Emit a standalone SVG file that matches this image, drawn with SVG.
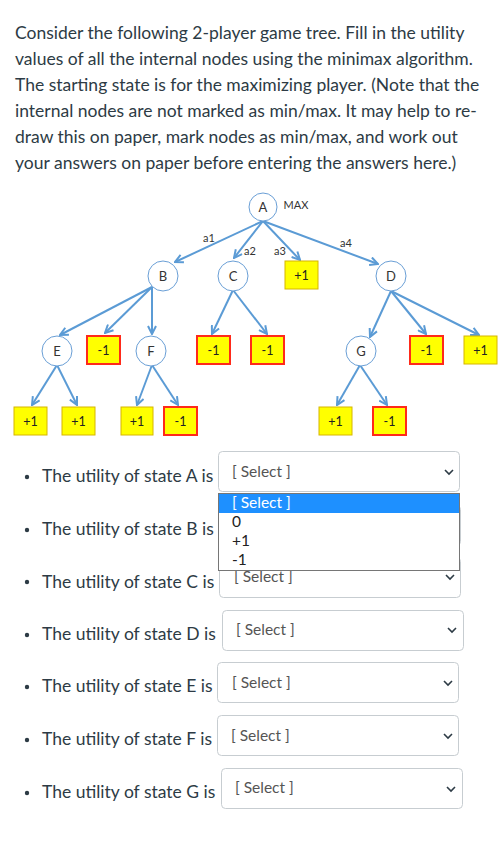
<svg xmlns="http://www.w3.org/2000/svg" width="499" height="849" viewBox="0 0 499 849">
<style>
.p{font-family:Lato,"Open Sans","Liberation Sans",sans-serif;font-size:17.5px;fill:#2d3b45}
.n circle{fill:#fff;stroke:#6a9fd6;stroke-width:1}
.n text,.lf text,.lbl{font-family:Lato,"Liberation Sans",sans-serif;font-size:13px;fill:#333;text-anchor:middle}
.lbl{font-size:11px}
.lf text{font-size:12.5px;fill:#222}
.pos rect{fill:#ffff00;stroke:#d6b600;stroke-width:1}
.neg rect{fill:#ffff00;stroke:#ff2a1a;stroke-width:2}
.e line{stroke:#5b9bd5;stroke-width:2;marker-end:url(#ah)}
.sel{fill:#fff;stroke:#c7cdd1;stroke-width:1}
.st{font-family:Lato,"Open Sans","Liberation Sans",sans-serif;font-size:15.5px;fill:#555}
.chev{fill:none;stroke:#2d3b45;stroke-width:1.6}
</style>
<defs>
<marker id="ah" viewBox="0 0 10 10" refX="9" refY="5" markerWidth="10" markerHeight="10" markerUnits="userSpaceOnUse" orient="auto">
<path d="M1,1 L9,5 L1,9" fill="none" stroke="#5b9bd5" stroke-width="2"/>
</marker>
</defs>
<rect width="499" height="849" fill="#fff"/>
<g id="question">
<text class="p" x="15" y="39">Consider the following 2-player game tree. Fill in the utility</text>
<text class="p" x="15" y="65">values of all the internal nodes using the minimax algorithm.</text>
<text class="p" x="15" y="91">The starting state is for the maximizing player. (Note that the</text>
<text class="p" x="15" y="117">internal nodes are not marked as min/max. It may help to re-</text>
<text class="p" x="15" y="143">draw this on paper, mark nodes as min/max, and work out</text>
<text class="p" x="15" y="169">your answers on paper before entering the answers here.)</text>
</g>
<g id="connectors" class="e">
<line x1="263" y1="221" x2="175" y2="262"/>
<line x1="263" y1="221" x2="234" y2="258"/>
<line x1="263" y1="221" x2="300" y2="260"/>
<line x1="263" y1="221" x2="378" y2="264"/>
<line x1="152" y1="287" x2="60" y2="335"/>
<line x1="152" y1="287" x2="105" y2="333"/>
<line x1="152" y1="287" x2="152" y2="334"/>
<line x1="233" y1="290" x2="212" y2="334"/>
<line x1="233" y1="290" x2="267" y2="334"/>
<line x1="391" y1="291" x2="370" y2="337"/>
<line x1="391" y1="291" x2="426" y2="334"/>
<line x1="391" y1="291" x2="479" y2="335"/>
<line x1="57" y1="365" x2="32" y2="405"/>
<line x1="57" y1="365" x2="77" y2="405"/>
<line x1="152" y1="365" x2="137" y2="405"/>
<line x1="152" y1="365" x2="178" y2="405"/>
<line x1="360" y1="365" x2="337" y2="405"/>
<line x1="360" y1="365" x2="387" y2="405"/>
</g>
<g id="edge-labels">
<text class="lbl" x="209" y="242">a1</text>
<text class="lbl" x="250" y="255">a2</text>
<text class="lbl" x="280" y="255">a3</text>
<text class="lbl" x="346" y="247">a4</text>
<text class="lbl" x="296" y="209">MAX</text>
</g>
<g id="A" class="n"><circle cx="263" cy="207" r="14"/><text x="263" y="211.5">A</text></g>
<g id="B" class="n"><circle cx="163" cy="276" r="15"/><text x="163" y="280.5">B</text></g>
<g id="C" class="n"><circle cx="233" cy="276" r="15"/><text x="233" y="280.5">C</text></g>
<g id="D" class="n"><circle cx="391" cy="276" r="15"/><text x="391" y="280.5">D</text></g>
<g id="E" class="n"><circle cx="57" cy="351" r="15"/><text x="57" y="355.5">E</text></g>
<g id="F" class="n"><circle cx="151" cy="351" r="15"/><text x="151" y="355.5">F</text></g>
<g id="G" class="n"><circle cx="361" cy="351" r="15"/><text x="361" y="355.5">G</text></g>
<g id="leaf-a3" class="lf pos"><rect x="285" y="261" width="33" height="28"/><text x="301.5" y="279.5">+1</text></g>
<g id="leaf-b2" class="lf neg"><rect x="87" y="336" width="33" height="28"/><text x="103.5" y="354.5">-1</text></g>
<g id="leaf-c1" class="lf neg"><rect x="197" y="336" width="33" height="28"/><text x="213.5" y="354.5">-1</text></g>
<g id="leaf-c2" class="lf neg"><rect x="251" y="336" width="33" height="28"/><text x="267.5" y="354.5">-1</text></g>
<g id="leaf-d2" class="lf neg"><rect x="410" y="336" width="33" height="28"/><text x="426.5" y="354.5">-1</text></g>
<g id="leaf-d3" class="lf pos"><rect x="464" y="336" width="33" height="28"/><text x="480.5" y="354.5">+1</text></g>
<g id="leaf-e1" class="lf pos"><rect x="14" y="407" width="33" height="28"/><text x="30.5" y="425.5">+1</text></g>
<g id="leaf-e2" class="lf pos"><rect x="62" y="407" width="33" height="28"/><text x="78.5" y="425.5">+1</text></g>
<g id="leaf-f1" class="lf pos"><rect x="121" y="407" width="32" height="28"/><text x="137" y="425.5">+1</text></g>
<g id="leaf-f2" class="lf neg"><rect x="164" y="407" width="33" height="28"/><text x="180.5" y="425.5">-1</text></g>
<g id="leaf-g1" class="lf pos"><rect x="319" y="407" width="33" height="28"/><text x="335.5" y="425.5">+1</text></g>
<g id="leaf-g2" class="lf neg"><rect x="373" y="407" width="33" height="28"/><text x="389.5" y="425.5">-1</text></g>
<g id="answers">
<g fill="#2d3b45">
<circle cx="27" cy="477" r="2.2"/><circle cx="27" cy="530" r="2.2"/><circle cx="27" cy="582" r="2.2"/>
<circle cx="27" cy="635" r="2.2"/><circle cx="27" cy="687" r="2.2"/><circle cx="27" cy="740" r="2.2"/><circle cx="27" cy="793" r="2.2"/>
</g>
<text class="p" x="42" y="482">The utility of state A is</text>
<text class="p" x="42" y="535">The utility of state B is</text>
<text class="p" x="42" y="588">The utility of state C is</text>
<text class="p" x="42" y="640">The utility of state D is</text>
<text class="p" x="42" y="692">The utility of state E is</text>
<text class="p" x="42" y="745">The utility of state F is</text>
<text class="p" x="42" y="798">The utility of state G is</text>
<rect class="sel" x="218.5" y="451.5" width="241" height="40" rx="4"/>
<text class="st" x="232" y="477">[ Select ]</text>
<path class="chev" d="M445,470 L449,474 L453,470"/>
<rect class="sel" x="219.5" y="505.5" width="241" height="40" rx="4"/>
<rect class="sel" x="219.5" y="557.5" width="241" height="40" rx="4"/>
<text class="st" x="234" y="582">[ Select ]</text>
<path class="chev" d="M446,575 L450,579 L454,575"/>
<rect class="sel" x="222.5" y="610.5" width="241" height="40" rx="4"/>
<text class="st" x="236" y="635">[ Select ]</text>
<path class="chev" d="M448,628 L452,632 L456,628"/>
<rect class="sel" x="217.5" y="662.5" width="241" height="40" rx="4"/>
<text class="st" x="232" y="688">[ Select ]</text>
<path class="chev" d="M444,681 L448,685 L452,681"/>
<rect class="sel" x="217.5" y="715.5" width="241" height="40" rx="4"/>
<text class="st" x="231" y="741">[ Select ]</text>
<path class="chev" d="M444,734 L448,738 L452,734"/>
<rect class="sel" x="221.5" y="768.5" width="241" height="40" rx="4"/>
<text class="st" x="235" y="793">[ Select ]</text>
<path class="chev" d="M447,787 L451,791 L455,787"/>
<g id="dropdown">
<rect x="218.5" y="493.5" width="241" height="77" fill="#fff" stroke="#767676" stroke-width="1"/>
<rect x="219" y="494" width="240" height="19" fill="#1e90ff"/>
<text class="st" x="232" y="508" style="fill:#fff">[ Select ]</text>
<text class="st" x="232" y="527" style="fill:#222">0</text>
<text class="st" x="232" y="546" style="fill:#222">+1</text>
<text class="st" x="232" y="565" style="fill:#222">-1</text>
</g>
</g>
</svg>
